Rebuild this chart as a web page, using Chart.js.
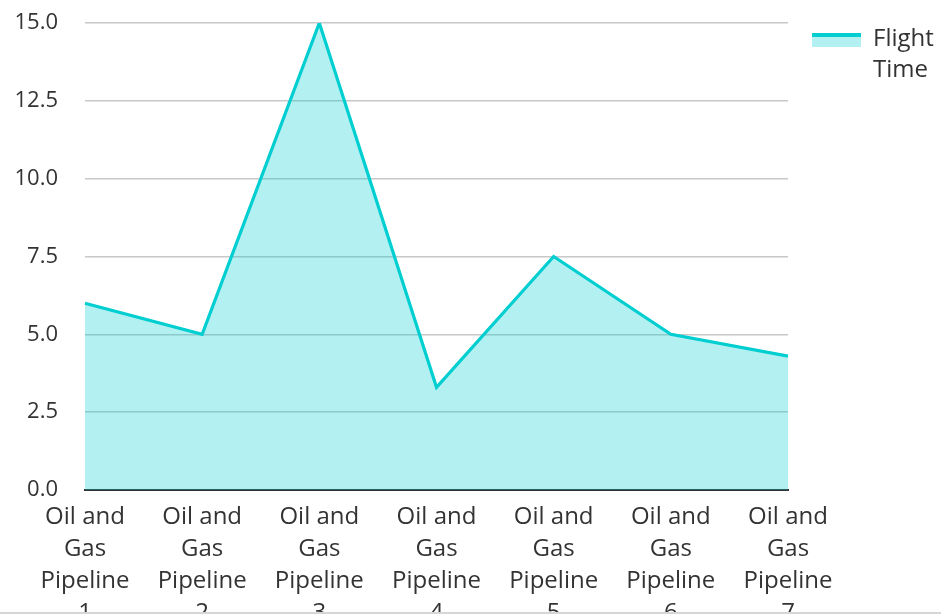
<!DOCTYPE html>
<html>
<head>
<meta charset="utf-8">
<script src="https://cdn.jsdelivr.net/npm/chart.js@4/dist/chart.umd.min.js"></script>
<style>
  html, body { margin: 0; padding: 0; background: #fff; }
  #frame { width: 941px; height: 612px; overflow: hidden; border-bottom: 2px solid #d6d6d6; }
  #holder { position: relative; width: 941px; height: 632px; }
</style>
</head>
<body>
<div id="frame"><div id="holder"><canvas id="chart"></canvas></div></div>
<script>
// Flight time per pipeline
const categories = [
  ["Oil and", "Gas", "Pipeline", "1"],
  ["Oil and", "Gas", "Pipeline", "2"],
  ["Oil and", "Gas", "Pipeline", "3"],
  ["Oil and", "Gas", "Pipeline", "4"],
  ["Oil and", "Gas", "Pipeline", "5"],
  ["Oil and", "Gas", "Pipeline", "6"],
  ["Oil and", "Gas", "Pipeline", "7"]
];
const seriesName = ["Flight", "Time"];
const flightTime = [6.0, 5.0, 15.0, 3.3, 7.5, 5.0, 4.3];
const yTicks = [0, 2.5, 5, 7.5, 10, 12.5, 15];

const LINE = "#00CED1";
const FILL = "rgba(0, 206, 209, 0.3)";
const TEXT = "#333333";
const FONT = "'Open Sans', 'Noto Sans', sans-serif";

// Legend drawn at the right of the plot: filled swatch with a thick top edge, wrapped name
const sideLegend = {
  id: "sideLegend",
  afterDraw(chart) {
    const ctx = chart.ctx;
    const x = chart.chartArea.right + 24;
    const y = 33;
    ctx.save();
    ctx.fillStyle = FILL;
    ctx.fillRect(x, y, 49, 14);
    ctx.fillStyle = LINE;
    ctx.fillRect(x, y, 49, 4);
    ctx.fillStyle = TEXT;
    ctx.font = "24px " + FONT;
    ctx.textBaseline = "alphabetic";
    ctx.textAlign = "left";
    seriesName.forEach((t, i) => ctx.fillText(t, x + 61, 46 + i * 31));
    ctx.restore();
  }
};

new Chart(document.getElementById("chart"), {
  type: "line",
  data: {
    labels: categories,
    datasets: [{
      label: seriesName.join(" "),
      data: flightTime,
      borderColor: LINE,
      backgroundColor: FILL,
      borderWidth: 3.2,
      fill: "origin",
      pointRadius: 0,
      pointHoverRadius: 0,
      tension: 0
    }]
  },
  options: {
    responsive: true,
    maintainAspectRatio: false,
    animation: false,
    layout: { padding: { top: 23, left: 13, right: 153, bottom: 0 } },
    plugins: {
      legend: { display: false },
      tooltip: { enabled: false }
    },
    scales: {
      x: {
        offset: false,
        grid: { display: false, drawTicks: false },
        border: { display: true, color: "#333", width: 2 },
        ticks: {
          color: TEXT,
          font: { family: FONT, size: 24, lineHeight: 1.333 },
          padding: 11,
          maxRotation: 0,
          autoSkip: false
        },
        afterFit(axis) {
          axis.height = 142;
          axis.paddingLeft = 0;
          axis.paddingRight = 0;
        }
      },
      y: {
        min: 0,
        max: 15,
        afterBuildTicks(axis) { axis.ticks = yTicks.map(v => ({ value: v })); },
        grid: { color: "#c8c8c8", lineWidth: 1.5, drawTicks: false },
        border: { display: false },
        ticks: {
          color: TEXT,
          font: { family: FONT, size: 22 },
          padding: 27,
          callback: v => Number(v).toFixed(1)
        },
        afterFit(axis) {
          axis.width = 72;
          axis.paddingTop = 0;
          axis.paddingBottom = 0;
        }
      }
    }
  },
  plugins: [sideLegend]
});
</script>
</body>
</html>
